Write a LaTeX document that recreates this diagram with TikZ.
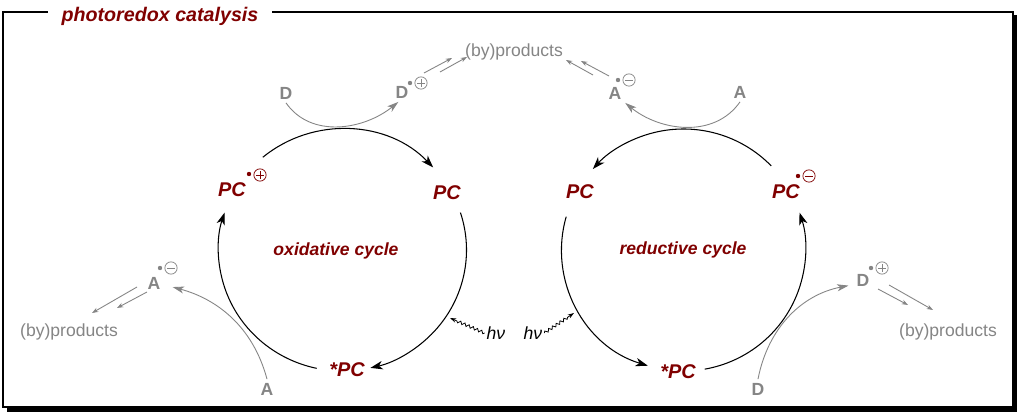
\documentclass[tikz,border=0pt]{standalone}
\usepackage{fontspec}
\setmainfont{Liberation Sans}
\usetikzlibrary{arrows.meta, decorations.pathmorphing}
\definecolor{c1}{HTML}{000000}
\definecolor{c2}{HTML}{800000}
\definecolor{c3}{HTML}{858585}

\begin{document}
\begin{tikzpicture}[
    x=0.02cm, y=0.02cm,
    every node/.style={inner sep=1pt},
    tit/.style={font=\fontsize{11.2}{13}\selectfont\bfseries\itshape, text=c2,
        fill=white, inner xsep=8pt, inner ysep=2pt},
    cat/.style={font=\fontsize{11.3}{13}\selectfont\bfseries\itshape, text=c2},
    cyclab/.style={font=\fontsize{10}{12}\selectfont\bfseries\itshape, text=c2},
    spec/.style={font=\fontsize{10}{12}\selectfont\bfseries, text=c3, inner sep=2pt},
    byp/.style={font=\fontsize{10}{12}\selectfont, text=c3},
    hv/.style={font=\fontsize{10}{12}\selectfont\itshape, text=c1},
    rdot/.style={circle, fill=#1, inner sep=0pt, minimum size=2.5pt},
    chg/.style={circle, draw=#1, inner sep=0pt, minimum size=7pt, line width=0.4pt},
    plus/.style={chg=#1, path picture={
        \draw[#1, line width=0.4pt]
            ([xshift=-2.2pt]path picture bounding box.center) -- ([xshift=2.2pt]path picture bounding box.center)
            ([yshift=-2.2pt]path picture bounding box.center) -- ([yshift=2.2pt]path picture bounding box.center);}},
    minus/.style={chg=#1, path picture={
        \draw[#1, line width=0.4pt]
            ([xshift=-2.2pt]path picture bounding box.center) -- ([xshift=2.2pt]path picture bounding box.center);}},
    cyc/.style={-{Stealth[length=7pt, width=4.8pt, inset=2pt]}, line width=0.6pt, color=c1},
    gcurve/.style={-{Stealth[length=6.5pt, width=4pt, inset=1.8pt]}, line width=0.5pt, color=c3},
    garr/.style={-{Stealth[length=3.6pt, width=2.6pt]}, line width=0.5pt, color=c3},
    light/.style={-{Stealth[length=3.6pt, width=2.4pt]}, line width=0.45pt, color=c1,
        decorate, decoration={snake, amplitude=0.8pt, segment length=2.6pt, post length=3.5pt}},
]
\useasboundingbox (0,0) rectangle (1024,419);

% ============================================================ frame with its shadow
\fill[c1] (7,7) rectangle (1017,404);
\draw[c1, line width=0.8pt, fill=white] (3,12) rectangle (1013,407);
\node[tit] (title) at (160,403) {photoredox catalysis};

% ============================================================ oxidative cycle
\coordinate (oxc) at (342.5,169);
\node[cat] (pcox) at (232,229) {PC};
\node[rdot=c2] (pcoxd) at (249,245) {};
\node[plus=c2] (pcoxq) at (260,244) {};
\node[cat] (pcl) at (447,226) {PC};
\node[cat] (pcsl) at (347,49) {*PC};
\node[cyclab] (oxlab) at (336,168) {oxidative cycle};

\foreach \a/\b in {130/43, 18/-77, -102/-198}{
    \draw[cyc] ([shift={(\a:124 and 121)}]oxc)
        arc[start angle=\a, end angle=\b, x radius=124, y radius=121];
}

% ============================================================ reductive cycle
\coordinate (rdc) at (683.5,169);
\node[cat] (pcr) at (580,227) {PC};
\node[cat] (pcred) at (786,227) {PC};
\node[rdot=c2] (pcredd) at (798,243) {};
\node[minus=c2] (pcredq) at (809,243) {};
\node[cat] (pcsr) at (678,47) {*PC};
\node[cyclab] (rdlab) at (683,169) {reductive cycle};

\foreach \a/\b in {44/138, 164/253, -80/18}{
    \draw[cyc] ([shift={(\a:122 and 121)}]rdc)
        arc[start angle=\a, end angle=\b, x radius=122, y radius=121];
}

% ============================================================ donor, top left
\node[spec] (dtl) at (286,326) {D};
\node[spec] (dtr) at (402,327) {D};
\node[rdot=c3] (dtrd) at (410,336) {};
\node[plus=c3] (dtrq) at (421,336) {};
\node[byp] (bpt) at (514,367) {(by)products};
\draw[gcurve] (dtl.south) to[out=-55, in=219] (dtr.250);
\foreach \sx/\sy/\vx/\vy in {22/19/28/15, 38/20/27/15}{
    \draw[garr] ([shift={(\sx,\sy)}]dtr.center) -- ++(\vx,\vy);
}

% ============================================================ acceptor, top right
\node[spec] (atr) at (615,326) {A};
\node[rdot=c3] (atrd) at (618,339) {};
\node[minus=c3] (atrq) at (629,339) {};
\node[spec] (atrr) at (740,327) {A};
\draw[gcurve] (atrr.south) to[out=-125, in=-39] (atr.south east);
\foreach \sx/\sy/\vx/\vy in {-6/17/-28/15, -22/18/-27/15}{
    \draw[garr] ([shift={(\sx,\sy)}]atr.center) -- ++(\vx,\vy);
}

% ============================================================ acceptor, bottom left
\node[spec] (abl) at (154,136) {A};
\node[rdot=c3] (abld) at (160,151) {};
\node[minus=c3] (ablq) at (171,151) {};
\node[spec] (ablb) at (267,30) {A};
\node[byp] (bpl) at (69,87) {(by)products};
\draw[gcurve, shorten >=5pt] (ablb.north) to[out=105, in=-15] (abl.-10);
\foreach \sx/\sy/\vx/\vy in {-17/-4/-45/-26, -7/-9/-30/-16}{
    \draw[garr] ([shift={(\sx,\sy)}]abl.center) -- ++(\vx,\vy);
}

% ============================================================ donor, bottom right
\node[spec] (dbr) at (863,139) {D};
\node[rdot=c3] (dbrd) at (871,151) {};
\node[plus=c3] (dbrq) at (882,151) {};
\node[spec] (dbrb) at (758,30) {D};
\node[byp] (bpr) at (948,87) {(by)products};
\draw[gcurve, shorten >=2.5pt] (dbrb.north) to[out=79, in=191] (dbr.205);
\foreach \sx/\sy/\vx/\vy in {15/-9/30/-16, 26/-5/44/-25}{
    \draw[garr] ([shift={(\sx,\sy)}]dbr.center) -- ++(\vx,\vy);
}

% ============================================================ light
\node[hv] (hvl) at (496,86) {hν};
\node[hv] (hvr) at (533,86) {hν};
\coordinate (hvlt) at (450,101);
\coordinate (hvrt) at (574,106);
\draw[light] (hvl.west) -- (hvlt);
\draw[light] (hvr.east) -- (hvrt);

\end{tikzpicture}
\end{document}
